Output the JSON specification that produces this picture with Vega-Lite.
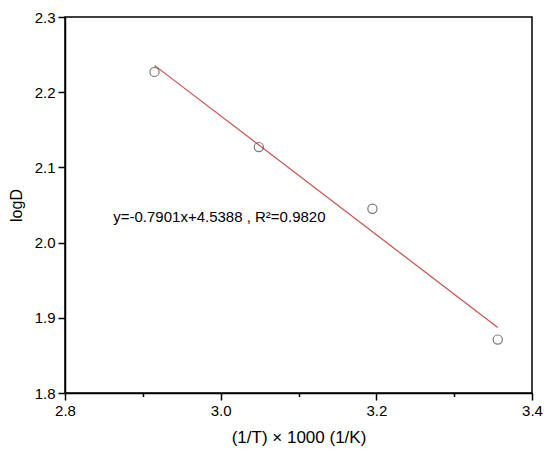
{
  "$schema": "https://vega.github.io/schema/vega-lite/v6.json",
  "width": 467,
  "height": 376,
  "autosize": "none",
  "padding": {"left": 65, "top": 17, "right": 18, "bottom": 65},
  "background": "white",
  "config": {
    "font": "Liberation Sans",
    "view": {"stroke": "black", "strokeWidth": 1.5},
    "axis": {
      "domainColor": "black",
      "domainWidth": 1.5,
      "tickColor": "black",
      "tickWidth": 1.5,
      "grid": false,
      "labelFont": "Liberation Sans",
      "labelFontSize": 15,
      "labelColor": "black",
      "titleFont": "Liberation Sans",
      "titleFontWeight": "normal",
      "titleColor": "black"
    }
  },
  "datasets": {
    "points": [
      {"invT": 2.915, "logD": 2.227},
      {"invT": 3.049, "logD": 2.127},
      {"invT": 3.195, "logD": 2.045},
      {"invT": 3.356, "logD": 1.871}
    ],
    "fit": [
      {"invT": 2.915, "logD": 2.2357},
      {"invT": 3.356, "logD": 1.8872}
    ],
    "note": [
      {"invT": 2.862, "logD": 2.028, "label": "y=-0.7901x+4.5388 , R²=0.9820"}
    ]
  },
  "layer": [
    {
      "data": {"name": "fit"},
      "mark": {"type": "line", "color": "#c8504a", "strokeWidth": 1.2},
      "encoding": {
        "x": {
          "field": "invT",
          "type": "quantitative",
          "scale": {"domain": [2.8, 3.4], "nice": false, "zero": false},
          "axis": {
            "title": "(1/T) × 1000 (1/K)",
            "titleFontSize": 17,
            "titlePadding": 11,
            "values": [2.8, 2.9, 3.0, 3.1, 3.2, 3.3, 3.4],
            "labelExpr": "round(datum.value * 10) % 2 == 0 ? format(datum.value, '.1f') : ''",
            "tickSize": {"condition": {"test": "round(datum.value * 10) % 2 == 0", "value": 7}, "value": 3.5},
            "labelPadding": 3,
            "labelFlush": false
          }
        },
        "y": {
          "field": "logD",
          "type": "quantitative",
          "scale": {"domain": [1.8, 2.3], "nice": false, "zero": false},
          "axis": {
            "title": "logD",
            "titleFontSize": 16,
            "titlePadding": 10,
            "values": [1.8, 1.85, 1.9, 1.95, 2.0, 2.05, 2.1, 2.15, 2.2, 2.25, 2.3],
            "labelExpr": "round(datum.value * 20) % 2 == 0 ? format(datum.value, '.1f') : ''",
            "tickSize": {"condition": {"test": "round(datum.value * 20) % 2 == 0", "value": 7}, "value": 3.5},
            "labelPadding": 3,
            "labelFlush": false
          }
        }
      }
    },
    {
      "data": {"name": "points"},
      "mark": {"type": "point", "shape": "circle", "filled": false, "stroke": "#444444", "strokeWidth": 1.2, "size": 85},
      "encoding": {
        "x": {"field": "invT", "type": "quantitative"},
        "y": {"field": "logD", "type": "quantitative"}
      }
    },
    {
      "data": {"name": "note"},
      "mark": {"type": "text", "align": "left", "baseline": "alphabetic", "fontSize": 15, "color": "black", "font": "Liberation Sans"},
      "encoding": {
        "x": {"field": "invT", "type": "quantitative"},
        "y": {"field": "logD", "type": "quantitative"},
        "text": {"field": "label"}
      }
    }
  ]
}
